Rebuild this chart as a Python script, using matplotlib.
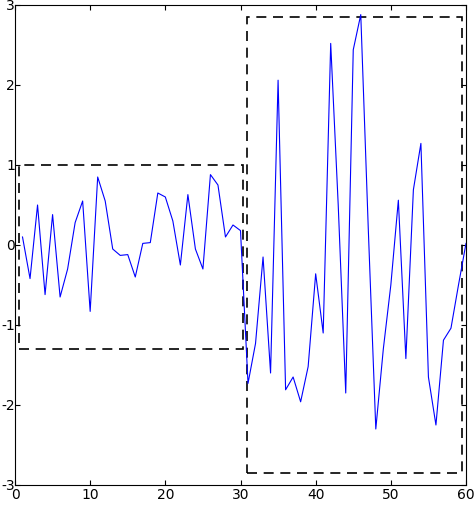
import matplotlib
matplotlib.use("Agg")
import matplotlib.pyplot as plt
from matplotlib.patches import Rectangle

plt.rcParams['axes.unicode_minus'] = False

x = list(range(1, 61))
y = [0.1, -0.42, 0.5, -0.62, 0.38, -0.65, -0.3, 0.28, 0.55, -0.83,
     0.85, 0.55, -0.05, -0.13, -0.12, -0.4, 0.02, 0.03, 0.65, 0.6,
     0.3, -0.25, 0.63, -0.05, -0.3, 0.88, 0.75, 0.1, 0.25, 0.18,
     -1.73, -1.23, -0.15, -1.6, 2.06, -1.81, -1.65, -1.96, -1.52, -0.36,
     -1.1, 2.52, 0.5, -1.85, 2.44, 2.88, 0.2, -2.3, -1.3, -0.5,
     0.56, -1.42, 0.69, 1.27, -1.65, -2.25, -1.19, -1.04, -0.5, 0.02]
boxes = [(0.5, -1.3, 29.8, 2.3), (30.8, -2.85, 28.7, 5.7)]

fig = plt.figure(figsize=(4.74, 5.05), dpi=100)
ax = fig.add_axes([15/474, 20/505, 451/474, 480/505])
ax.plot(x, y, color='#0000ff', lw=0.8)
for bx, by, bw, bh in boxes:
    ax.add_patch(Rectangle((bx, by), bw, bh, fill=False, ls=(0, (6, 4)), lw=1.2, ec='black'))
ax.set_xlim(0, 60)
ax.set_ylim(-3, 3)
ax.set_xticks(range(0, 61, 10))
ax.set_yticks(range(-3, 4))
ax.tick_params(direction='in', top=True, right=True, labelsize=10, pad=2)
ax.tick_params(axis='y', pad=0)
plt.savefig("out.png", dpi=100)
